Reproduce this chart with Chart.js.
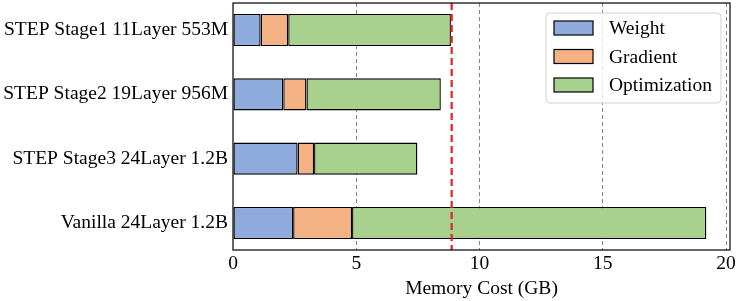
<!DOCTYPE html>
<html>
<head>
<meta charset="utf-8">
<script src="https://cdn.jsdelivr.net/npm/chart.js@4"></script>
<style>
  html, body { margin: 0; padding: 0; background: #fff; }
  #wrap { width: 739px; height: 301px; }
</style>
</head>
<body>
<div id="wrap"><canvas id="chart" width="739" height="301"></canvas></div>
<script>
// data (GB)
const categories = ["STEP Stage1 11Layer 553M", "STEP Stage2 19Layer 956M", "STEP Stage3 24Layer 1.2B", "Vanilla 24Layer 1.2B"];
const seriesNames = ["Weight", "Gradient", "Optimization"];
const weight = [1.12, 2.04, 2.62, 2.44];
const gradient = [1.12, 0.94, 0.67, 2.39];
const optimization = [6.60, 5.45, 4.19, 14.37];
const xTicks = [0, 5, 10, 15, 20];
const budgetLine = 8.87;

const colors = ["#8faadc", "#f4b183", "#a9d18e"];
const FONT = "'Liberation Serif', 'Times New Roman', serif";
const FS = 19.5;

function makeSet(label, values, color) {
  return {
    label: label,
    data: values.map((v, i) => ({ x: v, y: i })),
    backgroundColor: color,
    borderColor: "#000",
    borderWidth: 1.4,
    borderSkipped: false,
    barPercentage: 0.5,
    categoryPercentage: 1
  };
}

// box round the plot, red dashed line, legend in the top right
const extras = {
  id: "extras",
  afterDatasetsDraw(chart) {
    const ctx = chart.ctx;
    const a = chart.chartArea;
    const x = chart.scales.x.getPixelForValue(budgetLine);
    ctx.save();
    ctx.strokeStyle = "#e02b2b";
    ctx.lineWidth = 2.3;
    ctx.setLineDash([7, 4]);
    ctx.beginPath();
    ctx.moveTo(x, a.top);
    ctx.lineTo(x, a.bottom);
    ctx.stroke();
    ctx.restore();
  },
  afterDraw(chart) {
    const ctx = chart.ctx;
    const a = chart.chartArea;
    ctx.save();
    ctx.strokeStyle = "#000";
    ctx.lineWidth = 1.2;
    ctx.strokeRect(a.left, a.top, a.right - a.left, a.bottom - a.top);

    // legend
    const lx = 546, ly = 13, lw = 175, lh = 90;
    ctx.fillStyle = "rgba(255,255,255,0.8)";
    ctx.strokeStyle = "#d0d0d0";
    ctx.lineWidth = 1;
    ctx.beginPath();
    ctx.roundRect(lx, ly, lw, lh, 4);
    ctx.fill();
    ctx.stroke();
    ctx.font = FS + "px " + FONT;
    ctx.textBaseline = "middle";
    chart.data.datasets.forEach((ds, i) => {
      const cy = 28 + i * 28.5;
      ctx.fillStyle = ds.backgroundColor;
      ctx.fillRect(554, cy - 7, 39, 14);
      ctx.strokeStyle = "#000";
      ctx.lineWidth = 1.2;
      ctx.strokeRect(554, cy - 7, 39, 14);
      ctx.fillStyle = "#000";
      ctx.fillText(ds.label, 609, cy + 1);
    });
    ctx.restore();
  }
};

function noPad(s) {
  s.paddingTop = 0; s.paddingBottom = 0; s.paddingLeft = 0; s.paddingRight = 0;
}

new Chart(document.getElementById("chart"), {
  type: "bar",
  data: {
    datasets: [
      makeSet(seriesNames[0], weight, colors[0]),
      makeSet(seriesNames[1], gradient, colors[1]),
      makeSet(seriesNames[2], optimization, colors[2])
    ]
  },
  options: {
    indexAxis: "y",
    responsive: false,
    animation: false,
    layout: { padding: { top: 3, right: 9, left: 0, bottom: 0 } },
    plugins: { legend: { display: false }, tooltip: { enabled: false } },
    scales: {
      x: {
        type: "linear",
        stacked: true,
        min: 0,
        max: 20.16,
        afterBuildTicks: s => { s.ticks = xTicks.map(v => ({ value: v })); },
        afterFit: s => { s.height = 51; noPad(s); },
        grid: {
          color: c => c.tick.value === 0 ? "rgba(0,0,0,0)" : "#777",
          lineWidth: 0.9,
          drawTicks: false
        },
        border: { display: false, dash: [4, 3] },
        ticks: { color: "#000", font: { family: FONT, size: FS }, padding: 2, maxRotation: 0 },
        title: { display: true, text: "Memory Cost (GB)", color: "#000", font: { family: FONT, size: FS }, padding: { top: 1, bottom: 0 } }
      },
      y: {
        type: "linear",
        stacked: true,
        reverse: true,
        offset: false,
        min: -0.42,
        max: 3.42,
        afterBuildTicks: s => { s.ticks = categories.map((c, i) => ({ value: i })); },
        afterFit: s => { s.width = 233; noPad(s); },
        grid: { display: false, drawTicks: false },
        border: { display: false },
        ticks: {
          color: "#000",
          font: { family: FONT, size: FS },
          padding: 5,
          callback: v => categories[v]
        }
      }
    }
  },
  plugins: [extras]
});
</script>
</body>
</html>
